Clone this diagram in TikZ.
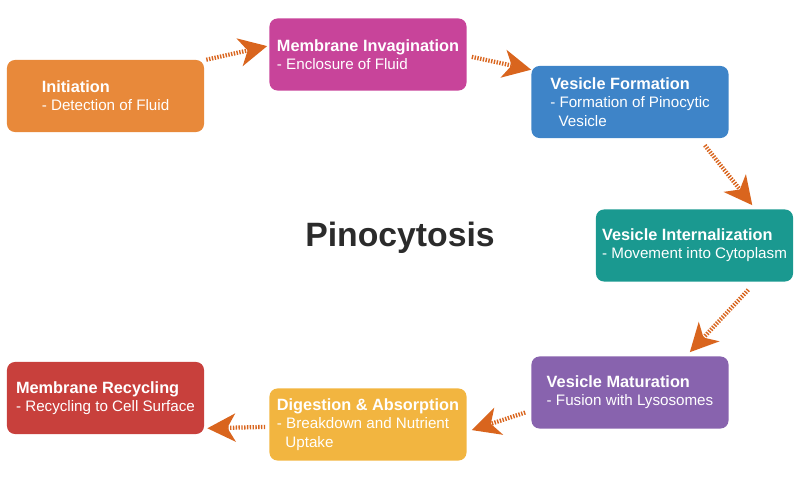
\documentclass[tikz,border=0pt]{standalone}
\usepackage{fontspec}
\setmainfont{Liberation Sans}
\usetikzlibrary{arrows.meta,calc}

\definecolor{initcol}{HTML}{E8893A}
\definecolor{invagcol}{HTML}{C8449A}
\definecolor{formcol}{HTML}{3E84C8}
\definecolor{interncol}{HTML}{1A9990}
\definecolor{maturcol}{HTML}{8863AE}
\definecolor{digestcol}{HTML}{F2B540}
\definecolor{recyccol}{HTML}{C8403C}
\definecolor{arrowcol}{HTML}{D9651E}
\definecolor{titlecol}{HTML}{2B2B2B}

\tikzset{
  stagebox/.style={rounded corners=0.2cm, minimum width=4.925cm, minimum height=1.8cm,
    inner xsep=1pt, align=left, text=white, font=\fontsize{10.8}{13}\selectfont},
  flowarrow/.style={-{Stealth[length=7mm,width=7mm,inset=2mm]}, line width=3pt, arrowcol,
    dash pattern=on 1pt off 1pt}
}
\newcommand{\stagehead}[1]{\textbf{\fontsize{11.6}{15}\selectfont #1}}

\begin{document}
\begin{tikzpicture}[x=0.025cm, y=-0.025cm]
      \useasboundingbox (0,0) rectangle (800,480);
      \node[stagebox, fill=initcol] (init) at (105.5,96) {\stagehead{Initiation}\\- Detection of Fluid};
      \node[stagebox, fill=invagcol] (invag) at (368,54.5) {\stagehead{Membrane Invagination}\\- Enclosure of Fluid};
      \node[stagebox, fill=formcol] (form) at (630,102) {\stagehead{Vesicle Formation}\\- Formation of Pinocytic\\\ \ Vesicle};
      \node[stagebox, fill=interncol] (intern) at (694.5,245.5) {\stagehead{Vesicle Internalization}\\- Movement into Cytoplasm};
      \node[stagebox, fill=maturcol] (matur) at (630,392.5) {\stagehead{Vesicle Maturation}\\- Fusion with Lysosomes};
      \node[stagebox, fill=digestcol] (digest) at (368,424.5) {\stagehead{Digestion \& Absorption}\\- Breakdown and Nutrient\\\ \ Uptake};
      \node[stagebox, fill=recyccol] (recyc) at (105.5,398) {\stagehead{Membrane Recycling}\\- Recycling to Cell Surface};
      \node[text=titlecol, font=\fontsize{24}{28}\selectfont\bfseries] (title) at (400,238) {Pinocytosis};
      \draw[flowarrow] ([xshift=0.05cm]init.north east) -- ([xshift=-0.05cm,yshift=0.21cm]invag.west);
      \draw[flowarrow] ([xshift=0.125cm,yshift=-0.06cm]invag.east) -- ([yshift=-0.1cm]form.north west);
      \draw[flowarrow] ([xshift=-0.6cm,yshift=-0.175cm]form.south east) -- ([xshift=-1.025cm,yshift=0.1cm]intern.north east);
      \draw[flowarrow] ([xshift=-1.125cm,yshift=-0.2cm]intern.south east) -- ([xshift=-0.975cm,yshift=0.1cm]matur.north east);
      \draw[flowarrow] ([xshift=-0.15cm,yshift=-0.5cm]matur.west) -- ([xshift=0.125cm,yshift=-0.14cm]digest.east);
      \draw[flowarrow] ([xshift=-0.1cm,yshift=-0.06cm]digest.west) -- ([xshift=0.075cm,yshift=0.15cm]recyc.south east);
    \end{tikzpicture}
\end{document}
